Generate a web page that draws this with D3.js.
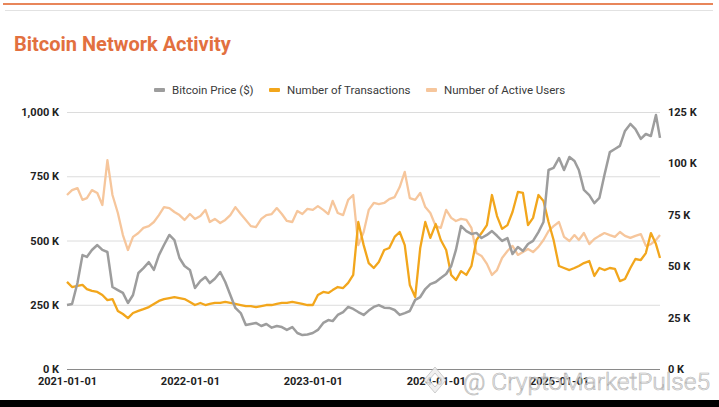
<!DOCTYPE html>
<html><head><meta charset="utf-8">
<script src="https://cdn.jsdelivr.net/npm/d3@7"></script>
<style>
html,body{margin:0;padding:0;background:#fff;overflow:hidden;}
svg{display:block;font-family:Roboto,"Noto Sans",sans-serif;}
</style></head><body>
<svg id="c" width="719" height="407"></svg>
<script>
// ---- data (values in thousands) ----
const dates = [
"2021-01-01","2021-01-16","2021-02-01","2021-02-16","2021-03-01","2021-03-16","2021-04-01","2021-04-16","2021-05-01","2021-05-16","2021-06-01","2021-06-16",
"2021-07-01","2021-07-16","2021-08-01","2021-08-16","2021-09-01","2021-09-16","2021-10-01","2021-10-16","2021-11-01","2021-11-16","2021-12-01","2021-12-16",
"2022-01-01","2022-01-16","2022-02-01","2022-02-16","2022-03-01","2022-03-16","2022-04-01","2022-04-16","2022-05-01","2022-05-16","2022-06-01","2022-06-16",
"2022-07-01","2022-07-16","2022-08-01","2022-08-16","2022-09-01","2022-09-16","2022-10-01","2022-10-16","2022-11-01","2022-11-16","2022-12-01","2022-12-16",
"2023-01-01","2023-01-16","2023-02-01","2023-02-16","2023-03-01","2023-03-16","2023-04-01","2023-04-16","2023-05-01","2023-05-16","2023-06-01","2023-06-16",
"2023-07-01","2023-07-16","2023-08-01","2023-08-16","2023-09-01","2023-09-16","2023-10-01","2023-10-16","2023-11-01","2023-11-16","2023-12-01","2023-12-16",
"2024-01-01","2024-01-16","2024-02-01","2024-02-16","2024-03-01","2024-03-16","2024-04-01","2024-04-16","2024-05-01","2024-05-16","2024-06-01","2024-06-16",
"2024-07-01","2024-07-16","2024-08-01","2024-08-16","2024-09-01","2024-09-16","2024-10-01","2024-10-16","2024-11-01","2024-11-16","2024-12-01","2024-12-16",
"2025-01-01","2025-01-16","2025-02-01","2025-02-16","2025-03-01","2025-03-16","2025-04-01","2025-04-16","2025-05-01","2025-05-16","2025-06-01","2025-06-16",
"2025-07-01","2025-07-16","2025-08-01","2025-08-16","2025-09-01","2025-09-16","2025-10-01","2025-10-16","2025-10-28"];

const priceK = [
31.1,31.6,41.8,55.4,54.5,57.9,60.3,57.9,56.9,39.9,38.4,37.0,32.1,36.0,46.7,49.1,52.0,48.2,55.4,60.3,65.2,62.7,54.0,50.1,
48.2,39.4,42.8,44.7,41.8,43.9,47.2,42.3,36.0,29.7,27.2,21.4,21.9,22.4,20.9,21.9,20.1,20.9,20.4,19.0,20.4,17.5,16.5,16.8,
17.5,19.0,22.4,23.8,23.3,26.3,27.7,30.2,29.2,27.7,26.3,28.4,30.2,31.1,29.8,29.7,28.7,26.3,27.2,28.2,33.6,35.0,38.9,41.3,
42.3,44.3,46.2,50.1,57.9,69.6,67.1,65.7,66.2,63.7,65.2,67.1,64.8,62.3,63.7,55.9,59.3,57.4,60.8,62.3,66.6,71.5,96.8,97.8,
102.6,96.8,103.1,101.2,96.8,87.1,84.6,80.7,83.2,94.4,105.5,107.0,108.5,115.8,119.2,116.7,111.9,114.3,113.3,123.5,112.4];

const transactionsK = [
339,319,323,327,311,304,300,288,268,272,226,214,198,218,226,233,241,253,265,272,276,280,276,272,
261,249,257,249,253,257,257,261,257,253,249,245,245,241,245,249,249,253,257,257,261,257,253,249,
249,288,300,296,307,319,315,335,366,572,482,412,393,416,463,471,514,533,482,327,280,471,572,510,
564,502,463,366,346,381,366,401,502,529,560,677,595,545,560,611,689,685,560,588,677,654,572,502,
401,393,385,393,401,412,420,362,393,385,393,390,342,350,393,428,424,451,529,486,432];

const activeUsersK = [
677,696,704,658,665,696,685,638,813,677,607,521,463,514,529,549,556,572,599,630,626,611,599,580,
603,584,595,619,572,584,568,580,599,630,603,580,556,552,584,599,603,626,603,576,572,615,603,623,
619,634,619,603,654,607,599,658,677,482,533,619,646,642,646,661,669,708,767,665,658,685,630,607,
556,549,619,588,576,584,580,549,451,440,409,366,385,432,459,479,444,455,467,455,475,502,537,556,
572,514,498,521,502,529,486,506,518,529,521,514,533,518,510,518,525,479,486,502,521];

const leftTicks = [0,250,500,750,1000];
const rightTicks = [0,25,50,75,100,125];
const xTicks = ["2021-01-01","2022-01-01","2023-01-01","2024-01-01","2025-01-01"];
const seriesNames = ["Bitcoin Price ($)","Number of Transactions","Number of Active Users"];
const seriesColors = ["#9d9d9d","#f2a61c","#f6c69c"];
const titleText = "Bitcoin Network Activity";
const watermarkText = "@ CryptoMarketPulse5";

// ---- drawing ----
const svg = d3.select("#c");
const parse = d3.utcParse("%Y-%m-%d");
const X0 = 67, X1 = 660, YT = 112, YB = 369;
const x = d3.scaleUtc().domain([parse(dates[0]), parse(dates[dates.length-1])]).range([X0, X1]);
const yL = d3.scaleLinear().domain([0,1000]).range([YB, YT]);
const yR = d3.scaleLinear().domain([0,125]).range([YB, YT]);

// header rules
svg.append("line").attr("x1",3).attr("x2",713).attr("y1",4).attr("y2",4)
  .attr("stroke","#e8865a").attr("stroke-width",2);
svg.append("line").attr("x1",5).attr("x2",713).attr("y1",10.5).attr("y2",10.5)
  .attr("stroke","#e2e2e2").attr("stroke-width",1);

svg.append("text").attr("x",14).attr("y",51).text(titleText)
  .attr("font-size",20).attr("font-weight",700).attr("fill","#e2703f");

// legend
const legendX = [154, 269, 426];
seriesNames.forEach((n,i)=>{
  svg.append("rect").attr("x",legendX[i]).attr("y",88).attr("width",11).attr("height",4)
    .attr("rx",1).attr("fill",seriesColors[i]);
  svg.append("text").attr("x",legendX[i]+18).attr("y",94).text(n)
    .attr("font-size",11.5).attr("fill","#3a3a3a");
});

// left axis + grid
const gL = svg.append("g").attr("transform",`translate(${X0},0)`)
  .call(d3.axisLeft(yL).tickValues(leftTicks).tickSize(-(X1-X0)).tickPadding(8)
    .tickFormat(d=>d3.format(",")(d)+" K"));
gL.select(".domain").remove();
gL.selectAll(".tick line").attr("stroke",d=>d===0?"#8a8a8a":"#dcdcdc").attr("stroke-width",d=>d===0?1.2:1);
gL.selectAll("text").attr("font-size",11).attr("font-weight",700).attr("fill","#222")
  .attr("font-family","Roboto,sans-serif");

// right axis
const gR = svg.append("g").attr("transform",`translate(${X1},0)`)
  .call(d3.axisRight(yR).tickValues(rightTicks).tickSize(0).tickPadding(8)
    .tickFormat(d=>d+" K"));
gR.select(".domain").remove();
gR.selectAll("text").attr("font-size",11).attr("font-weight",700).attr("fill","#222")
  .attr("font-family","Roboto,sans-serif");

// x axis
const gX = svg.append("g").attr("transform",`translate(0,${YB})`)
  .call(d3.axisBottom(x).tickValues(xTicks.map(parse)).tickSize(0).tickPadding(8)
    .tickFormat(d3.utcFormat("%Y-%m-%d")));
gX.select(".domain").remove();
gX.selectAll("text").attr("font-size",11).attr("font-weight",700).attr("fill","#222")
  .attr("font-family","Roboto,sans-serif");

// lines
const D = dates.map(parse);
const mk = (arr, ys) => d3.line().x((d,i)=>x(D[i])).y(d=>ys(d))(arr);
svg.append("path").attr("d",mk(activeUsersK,yL)).attr("fill","none")
  .attr("stroke",seriesColors[2]).attr("stroke-width",2.3).attr("stroke-linejoin","round");
svg.append("path").attr("d",mk(transactionsK,yL)).attr("fill","none")
  .attr("stroke",seriesColors[1]).attr("stroke-width",2.3).attr("stroke-linejoin","round");
svg.append("path").attr("d",mk(priceK,yR)).attr("fill","none")
  .attr("stroke",seriesColors[0]).attr("stroke-width",2.5).attr("stroke-linejoin","round");

// watermark
const wm = svg.append("g").attr("opacity",0.85);
wm.append("path").attr("d","M435,367 L446,380 L435,393 L424,380 Z M435,373 L441,380 L435,387 L429,380 Z")
  .attr("fill","#eeeeee").attr("stroke","#b8b8b8").attr("stroke-width",0.8).attr("fill-rule","evenodd");
wm.append("text").attr("x",463).attr("y",390).text(watermarkText)
  .attr("font-size",23).attr("font-weight",300).attr("fill","#ececec")
  .attr("textLength",247).attr("lengthAdjust","spacingAndGlyphs")
  .attr("stroke","#a8a8a8").attr("stroke-width",0.6);

// bottom black bar
svg.append("rect").attr("x",0).attr("y",400).attr("width",719).attr("height",7).attr("fill","#000");
</script>
</body></html>
